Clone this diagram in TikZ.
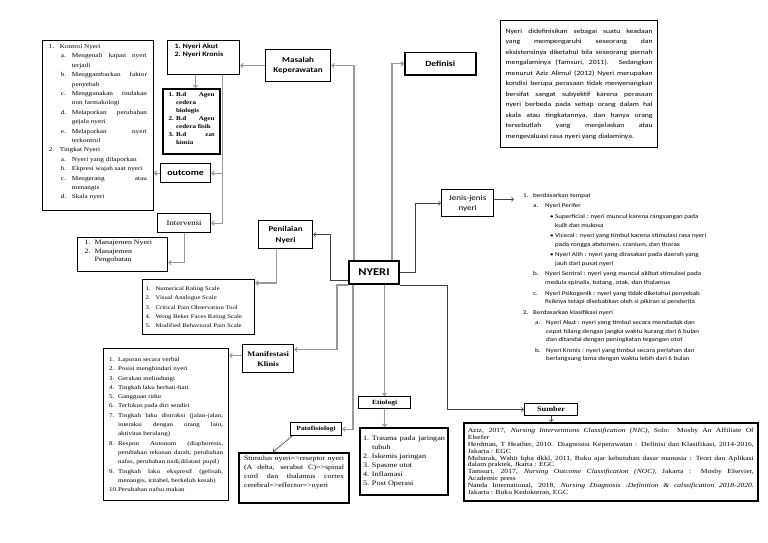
\documentclass[tikz,border=0pt]{standalone}
\usepackage{fontspec}
\setmainfont{Liberation Serif}[FakeStretch=1.2]
\newfontfamily\cali{Carlito}[FakeStretch=1.2]
\usetikzlibrary{positioning, arrows.meta}
\hyphenpenalty=10000 \exhyphenpenalty=10000 \tolerance=9999 \hbadness=10000 \hfuzz=4pt
\newcommand{\huruf}[2]{\fontsize{#1}{#2}\selectfont}
\newcommand{\butir}[3]{\par\leftskip=#1\relax\hangindent=#2\relax\hangafter=1\noindent\makebox[#2][l]{#3}\ignorespaces}

\begin{document}
\begin{tikzpicture}[x=1pt, y=-1pt,
    kotak/.style={draw, line width=1.2pt, anchor=north west, inner sep=0pt, align=center},
    tebal/.style={kotak, line width=2pt},
    tipis/.style={kotak, line width=0.8pt},
    judul/.style={font=\cali\bfseries\huruf{7.5}{10}},
    conn/.style={draw=black!40, line width=1.1pt, -{Straight Barb[length=2.2pt, width=4.4pt]}},
    connd/.style={draw=black!75, line width=0.6pt, -{Straight Barb[length=2.2pt, width=4.4pt]}},
]
\fill[white] (0,0) rectangle (768,543);
\useasboundingbox (0,0) rectangle (768,543);

% --- centre
\node[tebal, minimum width=50pt, minimum height=23pt, font=\cali\bfseries\huruf{10.4}{12}] (nyeri) at (348,260) {NYERI};

% --- upper left branch
\node[kotak, judul, minimum width=65pt, minimum height=32pt] (masalah) at (265,49) {Masalah\\Keperawatan};
\node[kotak, minimum width=72pt, minimum height=34pt, font=\cali\bfseries\huruf{6.7}{8.5}] (diagnosa) at (167,40) {\parbox[c][28pt][t]{58pt}{%
\butir{0pt}{8pt}{1.}Nyeri Akut
\butir{0pt}{8pt}{2.}Nyeri Kronis\par}};
\node[tebal, minimum width=57pt, minimum height=65pt, font=\bfseries\huruf{5.9}{8}] (bd) at (162,88) {\parbox[c][59pt][t]{46pt}{%
\butir{0pt}{7.5pt}{1.}B.d Agen\linebreak cedera\linebreak biologis
\butir{0pt}{7.5pt}{2.}B.d Agen\linebreak cedera fisik
\butir{0pt}{7.5pt}{3.}B.d zat\linebreak kimia\par}};
\node[kotak, minimum width=50pt, minimum height=19pt, font=\cali\bfseries\huruf{8.3}{10}] (outcome) at (160,163) {outcome};
\node[kotak, minimum width=53pt, minimum height=19pt, font=\huruf{7.3}{9}] (intervensi) at (157,213) {Intervensi};
\node[tipis, minimum width=111pt, minimum height=170pt, font=\huruf{6}{9.4}] (kriteria) at (42,40) {\parbox[c][162pt][t]{98pt}{%
\butir{0pt}{11pt}{1.}Kontrol Nyeri
\butir{12pt}{11pt}{a.}Mengenali kapan nyeri\linebreak terjadi
\butir{12pt}{11pt}{b.}Menggambarkan faktor\linebreak penyebab
\butir{12pt}{11pt}{c.}Menggunakan tindakan\linebreak non farmakologi
\butir{12pt}{11pt}{d.}Melaporkan perubahan\linebreak gejala nyeri
\butir{12pt}{11pt}{e.}Melaporkan nyeri\linebreak terkontrol
\butir{0pt}{11pt}{2.}Tingkat Nyeri
\butir{12pt}{11pt}{a.}Nyeri yang dilaporkan
\butir{12pt}{11pt}{b.}Ekpresi wajah saat nyeri
\butir{12pt}{11pt}{c.}Mengerang atau\linebreak menangis
\butir{12pt}{11pt}{d.}Skala nyeri\par}};
\node[kotak, minimum width=90pt, minimum height=34pt, font=\huruf{6.6}{8.5}] (manajemen) at (77,237) {\parbox[c][28pt][t]{76pt}{%
\butir{0pt}{10pt}{1.}Manajemen Nyeri
\butir{0pt}{10pt}{2.}Manajemen\linebreak Pengobatan\par}};

% --- assessment
\node[kotak, minimum width=54pt, minimum height=28pt, font=\cali\bfseries\huruf{7.4}{11}] (penilaian) at (258,220) {Penilaian\\Nyeri};
\node[kotak, minimum width=112pt, minimum height=55pt, font=\huruf{5.6}{9.2}] (skala) at (142,279) {\parbox{106pt}{%
\butir{0pt}{10pt}{1.}Numerical Rating Scale
\butir{0pt}{10pt}{2.}Visual Analogue Scale
\butir{0pt}{10pt}{3.}Critical Pain Observation Tool
\butir{0pt}{10pt}{4.}Wong Beker Faces Rating Scale
\butir{0pt}{10pt}{5.}Modified Behavioral Pain Scale\par}};

% --- definition
\node[kotak, minimum width=71pt, minimum height=22pt, font=\cali\bfseries\huruf{8}{10}, line width=1.5pt] (definisi) at (404,52) {Definisi};
\node[kotak, minimum width=157pt, minimum height=127pt, font=\cali\huruf{6.4}{10.5}] (isidefinisi) at (500,20) {\parbox{147pt}{%
Nyeri didefinisikan sebagai suatu keadaan\linebreak yang mempengaruhi seseorang dan\linebreak eksistensinya diketahui bila seseorang pernah\linebreak mengalaminya (Tamsuri, 2011). Sedangkan\linebreak menurut Aziz Alimul (2012) Nyeri merupakan\linebreak kondisi berupa perasaan tidak menyenangkan\linebreak bersifat sangat subyektif karena perasaan\linebreak nyeri berbeda pada setiap orang dalam hal\linebreak skala atau tingkatannya, dan hanya orang\linebreak tersebutlah yang menjelaskan atau\linebreak mengevaluasi rasa nyeri yang dialaminya.}};

% --- types of pain
\node[kotak, minimum width=52pt, minimum height=27pt, font=\cali\huruf{7.5}{10}] (jenis) at (441,189) {Jenis-jenis\\nyeri};
\node[anchor=north west, inner sep=0pt, font=\cali\huruf{5.85}{8.4}] (jenisisi) at (523,193) {\parbox{240pt}{\raggedright\setlength{\parskip}{2.3pt}%
\butir{0pt}{10pt}{1.}berdasarkan tempat
\butir{10pt}{12pt}{a.}Nyeri Perifer
\butir{27pt}{5pt}{\textbullet}Superficial : nyeri muncul karena rangsangan pada\newline kulit dan mukosa
\butir{27pt}{5pt}{\textbullet}Viceral : nyeri yang timbul karena stimulasi rasa nyeri\newline pada rongga abdomen, cranium, dan thorax
\butir{27pt}{5pt}{\textbullet}Nyeri Alih : nyeri yang dirasakan pada daerah yang\newline jauh dari pusat nyeri
\butir{10pt}{12pt}{b.}Nyeri Sentral : nyeri yang muncul akibat stimulasi pada\newline medula spinalis, batang, otak, dan thalamus
\butir{10pt}{12pt}{c.}Nyeri Psikogenik : nyeri yang tidak diketahui penyebab\newline fisiknya tetapi disebabkan oleh si pikiran si penderita
\butir{0pt}{10pt}{2.}Berdasarkan klasifikasi nyeri
\butir{12pt}{11pt}{a.}Nyeri Akut : nyeri yang timbul secara mendadak dan\newline cepat hilang dengan jangka waktu kurang dari 6 bulan\newline dan ditandai dengan peningkatan tegangan otot
\butir{12pt}{11pt}{b.}Nyeri Kronis : nyeri yang timbul secara perlahan dan\newline berlangsung lama dengan waktu lebih dari 6 bulan\par}};

% --- clinical signs
\node[kotak, minimum width=51pt, minimum height=28pt, font=\bfseries\huruf{7}{10}] (manifestasi) at (242,344) {Manifestasi\\Klinis};
\node[kotak, minimum width=125pt, minimum height=152pt, font=\huruf{5.8}{9.3}] (tanda) at (103,348) {\parbox{114pt}{%
\butir{0pt}{9pt}{1.}Laporan secara verbal
\butir{0pt}{9pt}{2.}Posisi menghindari nyeri
\butir{0pt}{9pt}{3.}Gerakan melindungi
\butir{0pt}{9pt}{4.}Tingkah laku berhati-hati
\butir{0pt}{9pt}{5.}Gangguan tidur
\butir{0pt}{9pt}{6.}Terfokus pada diri sendiri
\butir{0pt}{9pt}{7.}Tingkah laku distraksi (jalan-jalan,\linebreak interaksi dengan orang lain,\linebreak aktivitas berulang)
\butir{0pt}{9pt}{8.}Respon Autonom (diaphoresis,\linebreak perubahan tekanan darah, perubahan\linebreak nafas, perubahan nadi,dilatasi pupil)
\butir{0pt}{9pt}{9.}Tingkah laku ekspresif (gelisah,\linebreak menangis, iritabel, berkeluh kesah)
\butir{0pt}{9pt}{10.}Perubahan nafsu makan\par}};

% --- pathophysiology
\node[kotak, minimum width=51pt, minimum height=13pt, font=\bfseries\huruf{6.2}{8}] (patofisiologi) at (290,422) {Patofisiologi};
\node[tebal, minimum width=110pt, minimum height=50pt, font=\huruf{6.6}{9}] (stimulus) at (238,452) {\parbox[c][44pt][t]{100pt}{%
Stimulus nyeri=>reseptor nyeri\linebreak (A delta, serabut C)=>spinal\linebreak cord dan thalamus cortex\linebreak cerebral=>effector=>nyeri}};

% --- etiology
\node[kotak, minimum width=52pt, minimum height=12pt, font=\bfseries\huruf{6.3}{8}] (etiologi) at (358,396) {Etiologi};
\node[tebal, minimum width=88pt, minimum height=67pt, font=\huruf{6.8}{9}] (penyebab) at (359,427) {\parbox{82pt}{%
\butir{0pt}{9pt}{1.}Trauma pada jaringan\linebreak tubuh
\butir{0pt}{9pt}{2.}Iskemis jaringan
\butir{0pt}{9pt}{3.}Spasme otot
\butir{0pt}{9pt}{4.}Inflamasi
\butir{0pt}{9pt}{5.}Post Operasi\par}};

% --- references
\node[kotak, minimum width=53pt, minimum height=12pt, font=\bfseries\huruf{6.9}{8}] (sumber) at (524,403) {Sumber};
\node[kotak, minimum width=294pt, minimum height=78pt, font=\huruf{6.3}{6.8}, line width=1.5pt] (pustaka) at (463,422) {\parbox{286pt}{%
Aziz, 2017, \textit{Nursing Interventions Classification (NIC)}, Solo: Mosby An Affiliate Of\linebreak Elsefer\par
Herdman, T Heather, 2010. Diagnosisi Keperawatan : Definisi dan Klasifikasi, 2014-2016,\linebreak Jakarta : EGC\par
Mubarak, Wahit Iqba dkkl, 2011, Buku ajar kebutuhan dasar manusia : Teori dan Aplikasi\linebreak dalam praktek, Jkarta : EGC\par
Tamsuri, 2017, \textit{Nursing Outcome Classification (NOC)}, Jakarta : Mosby Elsevier,\linebreak Academic press\par
Nanda International, 2018, \textit{Nursing Diagnosis :Definition \& calssification 2018-2020.}\linebreak Jakarta : Buku Kedokteran, EGC}};

% --- connectors, top
\draw[conn] ([xshift=-20pt]nyeri.north) |- (masalah.east);
\draw[conn] ([xshift=18pt]nyeri.north) |- (definisi.west);
\draw[conn] (masalah.west) -- (masalah.west -| diagnosa.east);
\draw[conn] ([xshift=-8pt]diagnosa.south) -- ([xshift=-8pt]diagnosa.south |- bd.north);
\draw[conn] ([xshift=19pt]diagnosa.south) coordinate (batang) |- (intervensi.east);
\draw[conn] (batang |- outcome.east) -- (outcome.east);
\draw[conn] (outcome.west) -- (outcome.west -| kriteria.east);
\draw[conn] (intervensi.south) |- ([yshift=-8pt]manajemen.east);
\draw[connd] ([yshift=-7.5pt]nyeri.west) -- ++(-18pt,0) |- (penilaian.east);
\draw[conn] ([xshift=-9pt]penilaian.south) |- ([yshift=-4pt]skala.north east);
\draw[connd] (nyeri.east) -- ++(15pt,0) |- (jenis.west);
\draw[connd] ([yshift=4pt]jenis.east) -- ([xshift=-9pt, yshift=4pt]jenis.east -| jenisisi.west);

% --- connectors, bottom
\coordinate (kakiL) at ([xshift=-11pt]nyeri.south west);
\coordinate (kakiR) at ([xshift=47pt]nyeri.south east);
\draw[conn] (nyeri.south west) -- (kakiL) |- ([yshift=9pt]manifestasi.east);
\draw[conn] ([xshift=5pt]nyeri.south west) |- (patofisiologi.east);
\draw[conn] (nyeri.south -| etiologi.north) -- (etiologi.north);
\draw[connd] (nyeri.south east) -- (kakiR) |- (sumber.west);
\draw[conn] ([yshift=3pt]manifestasi.west) -- ([yshift=3pt]manifestasi.west -| tanda.east);
\draw[connd] ([xshift=2pt]patofisiologi.south west) -- ([xshift=35pt]stimulus.north west);
\draw[conn] (etiologi.south) -- (etiologi.south |- penyebab.north);
\draw[connd] (sumber.south) -- (sumber.south |- pustaka.north);
\end{tikzpicture}
\end{document}
